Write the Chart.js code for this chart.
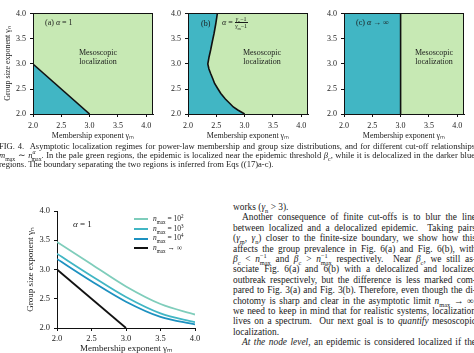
<!DOCTYPE html>
<html>
<head>
<meta charset="utf-8">
<script src="https://cdn.jsdelivr.net/npm/chart.js@4.4.0/dist/chart.umd.min.js"></script>
<style>
  html, body { margin: 0; padding: 0; background: #fff; }
  body { position: relative; width: 474px; height: 353px; overflow: hidden;
         font-family: "Liberation Serif", "Times New Roman", serif; color: #1a1a1a; }
  canvas { position: absolute; }
  .t { position: absolute; white-space: nowrap; line-height: 1; }
  .in { font-size: 8px; text-align: center; line-height: 9px; }
  sub, sup { font-size: 68%; line-height: 0; }
  .frac { display: inline-flex; flex-direction: column; align-items: center; vertical-align: middle;
          font-size: 6px; line-height: 6px; }
  .frac span:first-child { border-bottom: 0.6px solid #1a1a1a; padding: 0 1px; }
  .col { position: absolute; left: 233px; top: 202px; width: 243px; font-size: 9.4px; }
  .cap { position: absolute; left: -1px; top: 142px; width: 476px; font-size: 8.55px; }
  .ln { white-space: nowrap; text-align: justify; text-align-last: justify; overflow: visible; }
  .col .ln { height: 10.4px; line-height: 10.4px; }
  .cap .ln { height: 9.2px; line-height: 9.2px; }
  .ln.l { text-align-last: left; }
  .ln.ind { padding-left: 9px; }
  .leg { position: absolute; left: 134px; top: 214px; font-size: 7.5px; }
  .leg div { height: 9.7px; line-height: 9.7px; white-space: nowrap; }
  .leg b { display: inline-block; width: 14px; height: 2px; vertical-align: middle; margin-right: 5px; }
</style>
</head>
<body>
<canvas id="pa" width="160" height="145" style="left:0;top:0"></canvas>
<canvas id="pb" width="160" height="145" style="left:155px;top:0"></canvas>
<canvas id="pc" width="160" height="145" style="left:311px;top:0"></canvas>
<canvas id="bot" width="230" height="165" style="left:0;top:195px"></canvas>

<div class="t" style="left:45px;top:18.5px;font-size:8px">(a) <i>α</i> = 1</div>
<div class="t in" style="left:78px;top:48px;width:40px">Mesoscopic<br>localization</div>
<div class="t" style="left:201px;top:19.5px;font-size:8px">(b)</div>
<div class="t" style="left:222px;top:16px;font-size:8px"><i>α</i> = <span class="frac"><span><i>γ</i><sub>n</sub>−1</span><span><i>γ</i><sub>m</sub>−1</span></span></div>
<div class="t in" style="left:242px;top:48px;width:40px">Mesoscopic<br>localization</div>
<div class="t" style="left:356px;top:18.5px;font-size:8px">(c) <i>α</i> → ∞</div>
<div class="t in" style="left:414px;top:48px;width:40px">Mesoscopic<br>localization</div>

<div class="cap">
  <div class="ln">FIG. 4.&nbsp; Asymptotic localization regimes for power-law membership and group size distributions, and for different cut-off relationships</div>
  <div class="ln"><i>m</i><sub>max</sub> ∼ <i>n</i><sup><i>α</i></sup><sub style="margin-left:-4px">max</sub>. In the pale green regions, the epidemic is localized near the epidemic threshold <i>β</i><sub>c</sub>, while it is delocalized in the darker blue</div>
  <div class="ln l">regions. The boundary separating the two regions is inferred from Eqs ((17)a-c).</div>
</div>

<div class="t" style="left:73px;top:220px;font-size:9px"><i>α</i> = 1</div>
<div class="leg" id="leg"></div>

<div class="col">
  <div class="ln l">works (<i>γ</i><sub>n</sub> &gt; 3).</div>
  <div class="ln ind">Another consequence of finite cut-offs is to blur the line</div>
  <div class="ln">between localized and a delocalized epidemic.&nbsp; Taking pairs</div>
  <div class="ln">(<i>γ</i><sub>m</sub>, <i>γ</i><sub>n</sub>) closer to the finite-size boundary, we show how this</div>
  <div class="ln">affects the group prevalence in Fig. 6(a) and Fig. 6(b), with</div>
  <div class="ln"><i>β</i><sub>c</sub> &lt; <i>n</i><sup>−1</sup><sub style="margin-left:-7px">max</sub> and <i>β</i><sub>c</sub> &gt; <i>n</i><sup>−1</sup><sub style="margin-left:-7px">max</sub> respectively.&nbsp; Near <i>β</i><sub>c</sub>, we still as-</div>
  <div class="ln">sociate Fig. 6(a) and 6(b) with a delocalized and localized</div>
  <div class="ln">outbreak respectively, but the difference is less marked com-</div>
  <div class="ln">pared to Fig. 3(a) and Fig. 3(b). Therefore, even though the di-</div>
  <div class="ln">chotomy is sharp and clear in the asymptotic limit <i>n</i><sub>max</sub> → ∞,</div>
  <div class="ln">we need to keep in mind that for realistic systems, localization</div>
  <div class="ln">lives on a spectrum.&nbsp; Our next goal is to <i>quantify</i> mesoscopic</div>
  <div class="ln l">localization.</div>
  <div class="ln ind"><i>At the node level</i>, an epidemic is considered localized if the</div>
</div>

<script>
// ---- top row: asymptotic regimes ----
const topTicks = [2.0, 2.5, 3.0, 3.5, 4.0];
const topX = [2.0, 4.12];
const topY = [2.0, 4.02];

// boundary (a): alpha = 1
const aGm = [2.0, 3.0];
const aGn = [3.0, 2.0];
// boundary (b): alpha = (gn-1)/(gm-1)
const bGm = [2.52, 2.49, 2.46, 2.43, 2.40, 2.37, 2.35, 2.37, 2.40, 2.44, 2.47, 2.53, 2.58, 2.66, 2.74, 2.80, 2.88, 2.94, 3.0];
const bGn = [4.02, 3.80, 3.61, 3.45, 3.28, 3.13, 3.00, 2.90, 2.81, 2.70, 2.61, 2.50, 2.41, 2.30, 2.21, 2.14, 2.08, 2.04, 2.0];
// boundary (c): alpha -> infinity
const cGm = [3.0, 3.0];
const cGn = [2.0, 4.02];

const green = "#c7e9b4";
const blue = "#41b6c4";

// ---- bottom chart: finite cut-offs ----
const botTicks = [2.0, 2.5, 3.0, 3.5, 4.0];
const gammaM = [2.0, 2.5, 3.0, 3.5, 4.0];
const nmax1e2 = [3.47, 3.09, 2.71, 2.41, 2.23];
const nmax1e3 = [3.27, 2.89, 2.53, 2.25, 2.10];
const nmax1e4 = [3.18, 2.80, 2.45, 2.19, 2.06];
const infGm = [2.0, 3.0];
const infGn = [3.0, 2.0];
const seriesNames = ["n<sub>max</sub> = 10<sup>2</sup>", "n<sub>max</sub> = 10<sup>3</sup>", "n<sub>max</sub> = 10<sup>4</sup>", "n<sub>max</sub> → ∞"];
const seriesColors = ["#7fcdbb", "#41b6c4", "#1d91c0", "#111111"];

const pts = (xs, ys) => xs.map((x, i) => ({ x, y: ys[i] }));
const fmt = (v) => v.toFixed(1);
const serif = "Liberation Serif";

const frame = {
  id: "frame",
  beforeDatasetsDraw(chart) {
    if (!chart.options.plugins.frame.bg) return;
    const { ctx, chartArea: a } = chart;
    ctx.save();
    ctx.fillStyle = chart.options.plugins.frame.bg;
    ctx.fillRect(a.left, a.top, a.right - a.left, a.bottom - a.top);
    ctx.restore();
  },
  afterDatasetsDraw(chart) {
    if (!chart.options.plugins.frame.box) return;
    const { ctx, chartArea: a } = chart;
    ctx.save();
    ctx.strokeStyle = "#111";
    ctx.lineWidth = 1;
    ctx.strokeRect(Math.round(a.left) + 0.5, Math.round(a.top) + 0.5,
      Math.round(a.right - a.left) - 1, Math.round(a.bottom - a.top));
    ctx.restore();
  }
};

function axis(range, tickVals, extra) {
  return Object.assign({
    type: "linear",
    min: range[0],
    max: range[1],
    afterBuildTicks: (s) => { s.ticks = tickVals.map((v) => ({ value: v })); },
    grid: { display: true, drawOnChartArea: false, drawTicks: true, tickLength: 3, color: "#111" },
    border: { display: true, color: "#111", width: 1 },
    ticks: { callback: fmt, color: "#222", padding: 4, maxRotation: 0, font: { family: serif, size: 8 } }
  }, extra);
}

function topPanel(id, bx, by, blueRegion, showYTitle) {
  new Chart(document.getElementById(id), {
    type: "scatter",
    data: {
      datasets: [
        { data: pts(bx, by), showLine: true, borderColor: "#111", borderWidth: 1.6, pointRadius: 0, tension: 0 },
        { data: blueRegion, showLine: true, borderWidth: 0, backgroundColor: blue, fill: "shape", pointRadius: 0, tension: 0 }
      ]
    },
    options: {
      responsive: false,
      animation: false,
      layout: { padding: { left: 0, top: 13, right: 7, bottom: 0 } },
      plugins: { legend: { display: false }, tooltip: { enabled: false }, frame: { bg: green, box: true } },
      scales: {
        x: axis(topX, topTicks, {
          afterFit: (s) => { s.height = 31; },
          title: { display: true, text: "Membership exponent γₘ", color: "#222",
                   font: { family: serif, size: 8 }, padding: { top: 0, bottom: 4 } }
        }),
        y: axis(topY, topTicks, {
          afterFit: (s) => { s.width = 33; },
          title: { display: showYTitle, text: "Group size exponent γₙ", color: "#222",
                   font: { family: serif, size: 8 }, padding: { top: 3, bottom: 0 } }
        })
      }
    },
    plugins: [frame]
  });
}

// blue (delocalized) regions bounded by the boundary and the axis limits
topPanel("pa", aGm, aGn, pts(aGm.concat([topX[0]]), aGn.concat([topY[0]])), true);
topPanel("pb", bGm, bGn, pts(bGm.concat([topX[0], topX[0]]), bGn.concat([topY[0], topY[1]])), false);
topPanel("pc", cGm, cGn, pts([topX[0]].concat(cGm, [topX[0]]), [topY[0]].concat(cGn, [topY[1]])), false);

const curves = [nmax1e2, nmax1e3, nmax1e4];
new Chart(document.getElementById("bot"), {
  type: "scatter",
  data: {
    datasets: curves.map((ys, i) => ({
      data: pts(gammaM, ys), showLine: true, borderColor: seriesColors[i], borderWidth: 1.8,
      pointRadius: 0, cubicInterpolationMode: "monotone"
    })).concat([{
      data: pts(infGm, infGn), showLine: true, borderColor: seriesColors[3], borderWidth: 1.8, pointRadius: 0
    }])
  },
  options: {
    responsive: false,
    animation: false,
    layout: { padding: { left: 20, top: 16, right: 35, bottom: 0 } },
    plugins: { legend: { display: false }, tooltip: { enabled: false }, frame: { bg: null, box: false } },
    scales: {
      x: axis([2.0, 4.0], botTicks, {
        afterFit: (s) => { s.height = 32; },
        ticks: { callback: fmt, color: "#222", padding: 3, maxRotation: 0, font: { family: serif, size: 8.5 } },
        title: { display: true, text: "Membership exponent γₘ", color: "#222",
                 font: { family: serif, size: 9 }, padding: { top: 0, bottom: 5.5 } }
      }),
      y: axis([2.0, 4.0], botTicks, {
        afterFit: (s) => { s.width = 37; },
        ticks: { callback: fmt, color: "#222", padding: 4, font: { family: serif, size: 8.5 } },
        title: { display: true, text: "Group size exponent γₙ", color: "#222",
                 font: { family: serif, size: 9 }, padding: { top: 5.5, bottom: 0 } }
      })
    }
  },
  plugins: [frame]
});

document.getElementById("leg").innerHTML = seriesNames
  .map((n, i) => `<div><b style="background:${seriesColors[i]}"></b>${n.replace(/^n/, "<i>n</i>")}</div>`)
  .join("");
</script>
</body>
</html>
